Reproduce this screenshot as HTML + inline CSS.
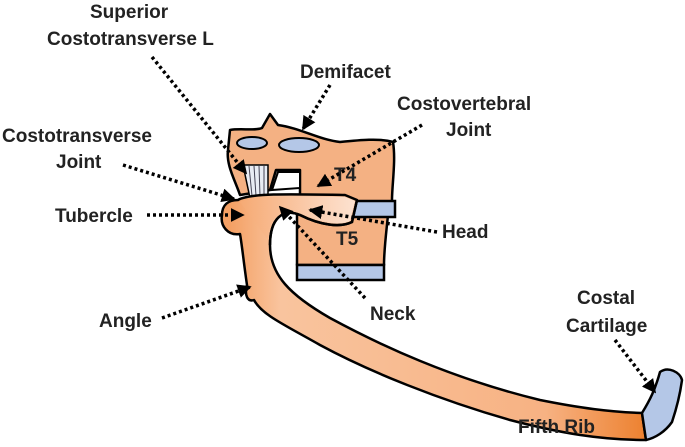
<!DOCTYPE html>
<html><head><style>
html,body{margin:0;padding:0;background:#fff;}
svg{display:block;}
text{font-family:"Liberation Sans",sans-serif;font-weight:bold;font-size:19px;fill:#222;}
</style></head><body>
<svg width="685" height="447" viewBox="0 0 685 447" xmlns="http://www.w3.org/2000/svg">
<defs>
<linearGradient id="rib" x1="230" y1="0" x2="650" y2="0" gradientUnits="userSpaceOnUse">
<stop offset="0" stop-color="#f4a064"/>
<stop offset="0.12" stop-color="#f9c49e"/>
<stop offset="0.75" stop-color="#f7b283"/>
<stop offset="1" stop-color="#ec7f2c"/>
</linearGradient>
<linearGradient id="head" x1="240" y1="0" x2="357" y2="0" gradientUnits="userSpaceOnUse">
<stop offset="0" stop-color="#f6aa74"/>
<stop offset="1" stop-color="#fde3d2"/>
</linearGradient>
<marker id="ah" markerWidth="4" markerHeight="4" refX="3.5" refY="2" orient="auto" markerUnits="strokeWidth">
<path d="M0,0 L4,2 L0,4 Z" fill="#000"/>
</marker>
</defs>
<!-- vertebra -->
<path d="M230,130 C240,128 255,131 262,128 L270,114 L278,125 C300,128 320,140 340,142 C360,140 380,138 393,142 C396,160 392,185 392,200 L388,215 C386,235 384,250 384,265 L297,265 L297,215 L300,205 L300,170 L276,170 L270,190 L240,195 C235,180 226,165 228,150 Z" fill="#f4b183" stroke="#000" stroke-width="2.5" stroke-linejoin="round"/>
<path d="M278,172 L300,172 L300,188 L272,190 Z" fill="#fff" stroke="#000" stroke-width="2"/>
<path d="M243,165 L268,165 L268,195 L250,198 Z" fill="#e8ecf4" stroke="#000" stroke-width="1.5"/>
<g stroke="#445" stroke-width="1"><line x1="249" y1="166" x2="252" y2="196"/><line x1="254" y1="166" x2="256" y2="196"/><line x1="259" y1="166" x2="260" y2="196"/><line x1="264" y1="166" x2="264" y2="196"/></g>
<ellipse cx="252" cy="143" rx="15" ry="6" fill="#b4c7e7" stroke="#000" stroke-width="2"/>
<ellipse cx="299" cy="145" rx="20" ry="7" fill="#b4c7e7" stroke="#000" stroke-width="2"/>
<rect x="319" y="201" width="76" height="16" fill="#b4c7e7" stroke="#000" stroke-width="2.5"/>
<rect x="297" y="265" width="87" height="15" fill="#b4c7e7" stroke="#000" stroke-width="2.5"/>
<!-- rib -->
<path d="M238,200 C250,193 290,194 345,195 L357,200 L352,222 C340,228 320,225 300,215 C283,208 270,218 270,245 C270,275 290,295 330,318 C380,345 450,378 540,400 C580,408 610,412 642,413 L646,440 C600,440 560,433 510,420 C440,400 370,372 320,345 C285,325 262,315 254,300 C248,302 244,296 247,285 C244,265 242,245 240,234 C228,236 220,226 222,215 C222,205 228,200 238,200 Z" fill="url(#rib)" stroke="#000" stroke-width="2.5" stroke-linejoin="round"/>
<path d="M240,202 C255,196 290,196 345,197 L355,201 L350,221 C340,226 320,223 300,213 C285,207 268,215 268,240" fill="url(#head)" stroke="none"/>
<path d="M357,200 L352,222 C340,228 320,225 300,215 C283,208 270,218 270,245" fill="none" stroke="#000" stroke-width="2.5"/>
<!-- cartilage -->
<path d="M642,413 C650,400 655,390 660,372 C668,366 680,372 682,380 C680,395 676,410 672,422 C665,432 655,438 646,440 Z" fill="#b4c7e7" stroke="#000" stroke-width="2.5" stroke-linejoin="round"/>
<!-- labels -->
<text x="90" y="18">Superior</text>
<text x="47" y="45">Costotransverse L</text>
<text x="300" y="78">Demifacet</text>
<text x="397" y="110">Costovertebral</text>
<text x="446" y="136">Joint</text>
<text x="2" y="142">Costotransverse</text>
<text x="56" y="168">Joint</text>
<text x="55" y="222">Tubercle</text>
<text x="442" y="238">Head</text>
<text x="334" y="181">T4</text>
<text x="336" y="245">T5</text>
<text x="99" y="327">Angle</text>
<text x="370" y="320">Neck</text>
<text x="577" y="304">Costal</text>
<text x="566" y="332">Cartilage</text>
<text x="518" y="433">Fifth Rib</text>
<!-- connectors -->
<g stroke="#000" stroke-width="3.5" stroke-dasharray="3,3" fill="none" marker-end="url(#ah)">
<line x1="152" y1="57" x2="246" y2="173"/>
<line x1="330" y1="85" x2="303" y2="129"/>
<line x1="422" y1="125" x2="318" y2="186"/>
<line x1="123" y1="165" x2="234" y2="199"/>
<line x1="147" y1="215" x2="243" y2="215"/>
<line x1="437" y1="232" x2="310" y2="210"/>
<line x1="162" y1="318" x2="250" y2="287"/>
<line x1="365" y1="298" x2="280" y2="207"/>
<line x1="615" y1="340" x2="655" y2="392"/>
</g>
</svg>
</body></html>
